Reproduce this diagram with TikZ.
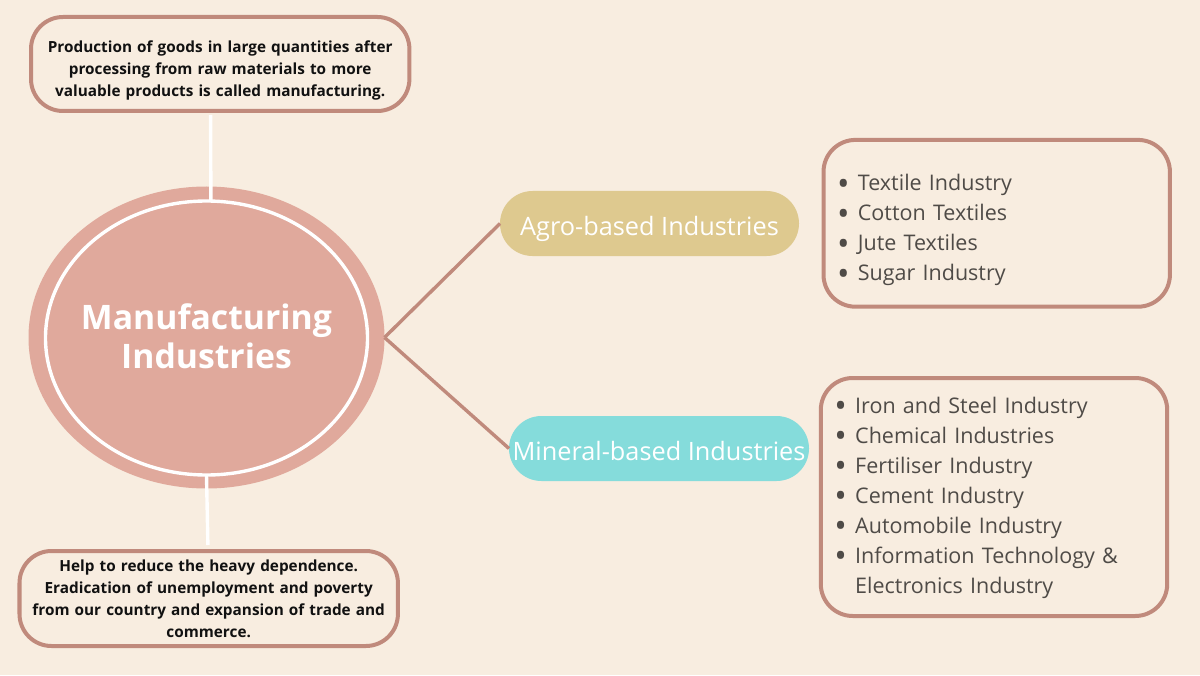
\documentclass[tikz,border=0pt]{standalone}
\usepackage{xcolor}
\usepackage{fontspec}
\setmainfont{Open Sans}
\usetikzlibrary{calc}
\usetikzlibrary{shapes.geometric}
\definecolor{paper}{HTML}{F8EDE0}
\definecolor{rimrose}{HTML}{C08A7C}
\definecolor{blush}{HTML}{E0A99C}
\definecolor{straw}{HTML}{DEC98F}
\definecolor{aqua}{HTML}{85DCDB}
\definecolor{slate}{HTML}{4F4B47}
\definecolor{ink}{HTML}{111111}
\tikzset{
  rimbox/.style={draw=rimrose, line width=.1cm, rounded corners=.8cm, outer sep=0pt, inner sep=0pt},
  notetext/.style={inner sep=0pt, text width=9.4cm, align=center, text=ink,
    font=\bfseries\fontsize{10.9}{15.65}\selectfont},
  listtext/.style={inner sep=0pt, text width=7.8cm, align=left, text=slate,
    font=\fontsize{15.3}{21.34}\selectfont},
  pill/.style={rounded corners=.8125cm, minimum height=1.625cm, outer sep=0pt, inner sep=0pt,
    text height=.575cm, text depth=0pt, text=white, font=\fontsize{18}{20}\selectfont},
  twig/.style={draw=rimrose, line width=.085cm},
  stalk/.style={draw=white, line width=.085cm}
}
\newcommand{\bul}[1]{\makebox[.43cm][l]{\hspace*{-.09cm}\smash{\raisebox{-.11cm}{\scalebox{1.55}{\textbullet}}}}#1}
\newcommand{\nobul}[1]{\makebox[.43cm][l]{}#1}
\begin{document}
\begin{tikzpicture}[scale=1]
\useasboundingbox (0,0) rectangle (30,16.875);
\fill[paper] (0,0) rectangle (30,16.875);
\node[ellipse, fill=blush, minimum width=8.9cm, minimum height=7.55cm, outer sep=0pt] (hub) at (5.1625,8.4375) {};
\node[ellipse, draw=white, line width=.085cm, fill=blush, minimum width=8.05cm, minimum height=6.85cm, outer sep=0pt] (core) at (5.1625,8.425) {};
\node[align=center, text=white, font=\bfseries\fontsize{24}{27.9}\selectfont] (title) at (5.1625,8.47) {Manufacturing\\Industries};
\node[rimbox, minimum width=9.46cm, minimum height=2.35cm] (meaning) at (5.505,15.275) {};
\node[notetext] (meaningtext) at (5.505,15.125) {Production of goods in large quantities after\\processing from raw materials to more\\valuable products is called manufacturing.};
\node[rimbox, minimum width=9.46cm, minimum height=2.375cm] (benefit) at (5.2175,1.9125) {};
\node[notetext] (benefittext) at (5.2175,1.9125) {Help to reduce the heavy dependence.\\Eradication of unemployment and poverty\\from our country and expansion of trade and\\commerce.};
\node[pill, fill=straw, minimum width=7.475cm] (agro) at (16.2375,11.2875) {Agro-based Industries};
\node[pill, fill=aqua, minimum width=7.5cm] (mineral) at (16.475,5.6625) {Mineral-based Industries};
\node[rimbox, minimum width=8.66cm, minimum height=4.17cm] (agrolist) at (24.9175,11.2925) {};
\node[listtext] (agrotext) at (24.9175,11.1175) {\bul{Textile Industry}\\\bul{Cotton Textiles}\\\bul{Jute Textiles}\\\bul{Sugar Industry}};
\node[rimbox, minimum width=8.66cm, minimum height=5.95cm] (minlist) at (24.85,4.45) {};
\node[listtext] (mintext) at (24.85,4.425) {\bul{Iron and Steel Industry}\\\bul{Chemical Industries}\\\bul{Fertiliser Industry}\\\bul{Cement Industry}\\\bul{Automobile Industry}\\\bul{Information Technology \&}\\\nobul{Electronics Industry}};
\draw[twig] (hub.east) -- (agro.west);
\draw[twig] (hub.east) -- (mineral.west);
\draw[stalk] ([xshift=-.24cm,yshift=-.1cm]meaning.south) -- ([xshift=.11cm]core.north);
\draw[stalk] (core.south) -- ([xshift=-.02cm,yshift=.15cm]benefit.north);
\end{tikzpicture}
\end{document}
